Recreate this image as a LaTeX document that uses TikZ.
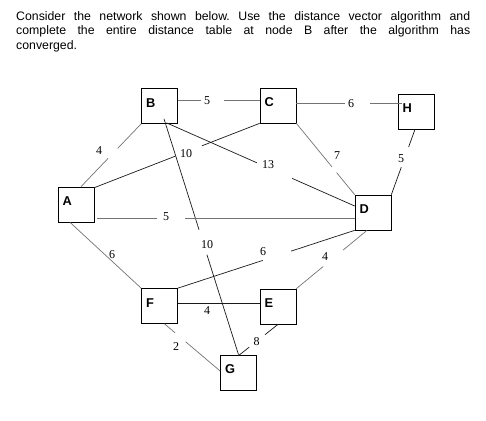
\documentclass[tikz,border=0pt]{standalone}
\usepackage{fontspec}
\setmainfont{Liberation Serif}
\setsansfont{Liberation Sans}
\usetikzlibrary{calc}

\begin{document}
\begin{tikzpicture}[
  x=1pt,y=-1pt,
  link/.style={line width=.7pt,draw=black!55},
  dark link/.style={line width=.7pt,draw=black!90},
  gap/.style 2 args={to path={-- ($(\tikztostart)!#1!(\tikztotarget)$) ($(\tikztostart)!#2!(\tikztotarget)$) -- (\tikztotarget)}},
  router/.style={draw=black,line width=.7pt,font=\sffamily\bfseries\fontsize{12.8}{12.8}\selectfont,inner xsep=4.5pt,inner ysep=0pt,text width=27pt,text height=18.5pt,text depth=16.5pt,align=left},
  weight/.style={font=\fontsize{12}{12}\selectfont,inner sep=0pt},
  task/.style={anchor=north west,inner sep=0pt,text width=454pt,align=justify,font=\sffamily\fontsize{12.3}{14.5}\selectfont\frenchspacing}
]
\useasboundingbox (0,0) rectangle (486,420);
\node[task] (question) at (16,11) {Consider the network shown below. Use the distance vector algorithm and\linebreak complete the entire distance table at node B after the algorithm has\linebreak converged.};
\node[router] (A) at (76,204.5) {A};
\node[router] (B) at (159.5,106) {B};
\node[router] (C) at (278,105.5) {C};
\node[router] (H) at (416,111.5) {H};
\node[router] (D) at (373,212.5) {D};
\node[router] (F) at (159.5,306) {F};
\node[router] (E) at (278,306.5) {E};
\node[router] (G) at (238.5,372.5) {G};
\draw[link,gap={.45}{.61}] ([xshift=5pt]A.north) to (B.south west);
\draw[link,gap={.28}{.57}] ([yshift=6pt]B.east) to ([yshift=5.5pt]C.west);
\draw[link,gap={.46}{.70}] ([yshift=2.5pt]C.east) to ([xshift=4pt,yshift=8.5pt]H.west);
\draw[dark link,gap={.49}{.65}] ([yshift=-1pt]A.north east) to (C.south west);
\draw[dark link,gap={.48}{.667}] ([xshift=7pt,yshift=1pt]B.south) to ([yshift=6.5pt]D.west);
\draw[dark link,gap={.47}{.576}] ([xshift=4.5pt,yshift=5pt]B.south) to (G.north);
\draw[link,gap={.61}{.69}] (C.south east) to (D.north west);
\draw[dark link,gap={.27}{.58}] ([xshift=-1pt]H.south) to (D.north east);
\draw[link,gap={.233}{.341}] ([xshift=3pt,yshift=-13.5pt]A.east) to ([yshift=-5.5pt]D.west);
\draw[link] ([xshift=-6pt]A.south) -- (F.north west);
\draw[dark link,gap={.48}{.64}] (F.north east) to (D.south west);
\draw[link,gap={.34}{.62}] ([xshift=-6pt]D.south) to (E.north east);
\draw[dark link] ([yshift=3pt]F.east) -- ([yshift=3.5pt]E.west);
\draw[link,gap={.19}{.38}] ([xshift=5pt]F.south) to ([yshift=1.5pt]G.west);
\draw[dark link,gap={.33}{.73}] (E.south) to ([yshift=-1pt]G.north);
\node[weight] (wAB) at (99,151) {4};
\node[weight] (wBC) at (207,100.5) {5};
\node[weight] (wCH) at (351,104) {6};
\node[weight] (wAC) at (186,154) {10};
\node[weight] (wBD) at (268,165) {13};
\node[weight] (wBG) at (207,245) {10};
\node[weight] (wCD) at (337,156) {7};
\node[weight] (wHD) at (401,159) {5};
\node[weight] (wAD) at (166,216.5) {5};
\node[weight] (wAF) at (112,255) {6};
\node[weight] (wFD) at (263,252) {6};
\node[weight] (wDE) at (325,257) {4};
\node[weight] (wFE) at (207,311) {4};
\node[weight] (wFG) at (176,346.5) {2};
\node[weight] (wEG) at (256.5,341.5) {8};
\end{tikzpicture}
\end{document}
